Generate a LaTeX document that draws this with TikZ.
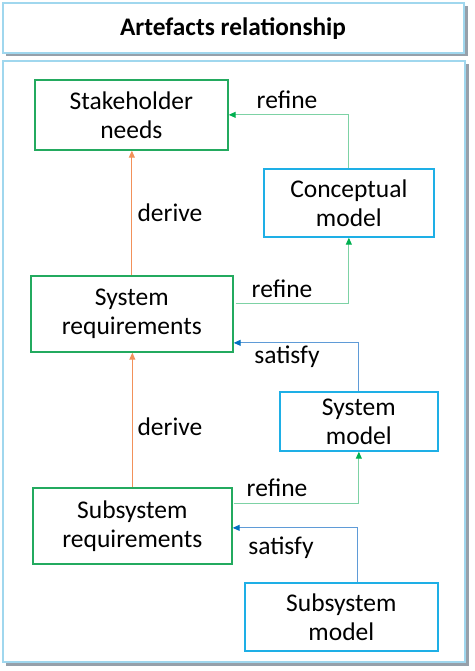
\documentclass[tikz,border=0pt]{standalone}
\usepackage{fontspec}
\setmainfont{Carlito}
\usetikzlibrary{arrows.meta}
\definecolor{frameblue}{RGB}{160,215,238}
\definecolor{shadowgrey}{RGB}{150,160,170}
\definecolor{boxgreen}{RGB}{35,170,95}
\definecolor{boxblue}{RGB}{30,175,230}
\definecolor{derivec}{RGB}{242,145,90}
\definecolor{refinec}{RGB}{125,210,165}
\definecolor{refinetip}{RGB}{0,176,80}
\definecolor{satc}{RGB}{95,155,215}
\definecolor{sattip}{RGB}{0,112,192}
\begin{document}
\begin{tikzpicture}[x=1pt,y=-1pt,
  txt/.style={font=\fontsize{25.5}{29}\selectfont, align=center, inner sep=0pt},
  greenbox/.style={txt, draw=boxgreen, line width=1.7pt, fill=white, anchor=north west},
  bluebox/.style={txt, draw=boxblue, line width=1.7pt, fill=white, anchor=north west},
  lbl/.style={txt},
  derivearrow/.style={draw=derivec, line width=1pt, -{Triangle[length=7pt,width=6pt]}},
  refinearrow/.style={draw=refinec, line width=1pt, -{Triangle[length=7pt,width=6pt,color=refinetip]}},
  satarrow/.style={draw=satc, line width=1pt, -{Triangle[length=7pt,width=6pt,color=sattip]}},
  frame/.style={draw=frameblue, line width=1.5pt, fill=white},
  shadow/.style={fill=shadowgrey, draw=none}
]
\useasboundingbox[fill=white] (0,0) rectangle (474,671);
% frames
\fill[shadow] (6,6) rectangle (467.5,56.5);
\draw[frame] (3,3) rectangle (464,53);
\fill[shadow] (6,64) rectangle (468.5,666);
\draw[frame] (3,61) rectangle (465,662);
\node[txt, font=\fontsize{25.3}{29}\bfseries] (title) at (233,29) {Artefacts relationship};
% boxes
\node[greenbox, minimum width=193pt, minimum height=70pt] (sn) at (34,79) {Stakeholder\\needs};
\node[bluebox, minimum width=170pt, minimum height=68pt] (cm) at (263,168) {Conceptual\\model};
\node[greenbox, minimum width=202pt, minimum height=76pt] (sr) at (30,275) {System\\requirements};
\node[bluebox, minimum width=158pt, minimum height=59pt] (smod) at (279,391) {System\\model};
\node[greenbox, minimum width=199pt, minimum height=76pt] (ssr) at (32,487) {Subsystem\\requirements};
\node[bluebox, minimum width=193pt, minimum height=68pt] (ssmod) at (244,582) {Subsystem\\model};
% connectors
\draw[refinearrow] (cm.north) |- (sn.east);
\draw[derivearrow] (sr.north) -- (sr.north |- sn.south);
\draw[refinearrow] ([xshift=2pt,yshift=10pt]sr.east) -| (cm.south);
\draw[satarrow] (smod.north) |- ([yshift=-29pt]sr.east);
\draw[derivearrow] (ssr.north) -- (ssr.north |- sr.south);
\draw[refinearrow] ([xshift=1pt,yshift=22pt]ssr.east) -| (smod.south);
\draw[satarrow] ([xshift=16.5pt]ssmod.north) |- ([yshift=-2pt]ssr.east);
% labels
\node[lbl] (l1) at (287,100) {refine};
\node[lbl] (l2) at (170,213) {derive};
\node[lbl] (l3) at (282,289) {refine};
\node[lbl] (l4) at (287,357) {satisfy};
\node[lbl] (l5) at (170,427) {derive};
\node[lbl] (l6) at (277,488) {refine};
\node[lbl] (l7) at (281,548) {satisfy};
\end{tikzpicture}
\end{document}
